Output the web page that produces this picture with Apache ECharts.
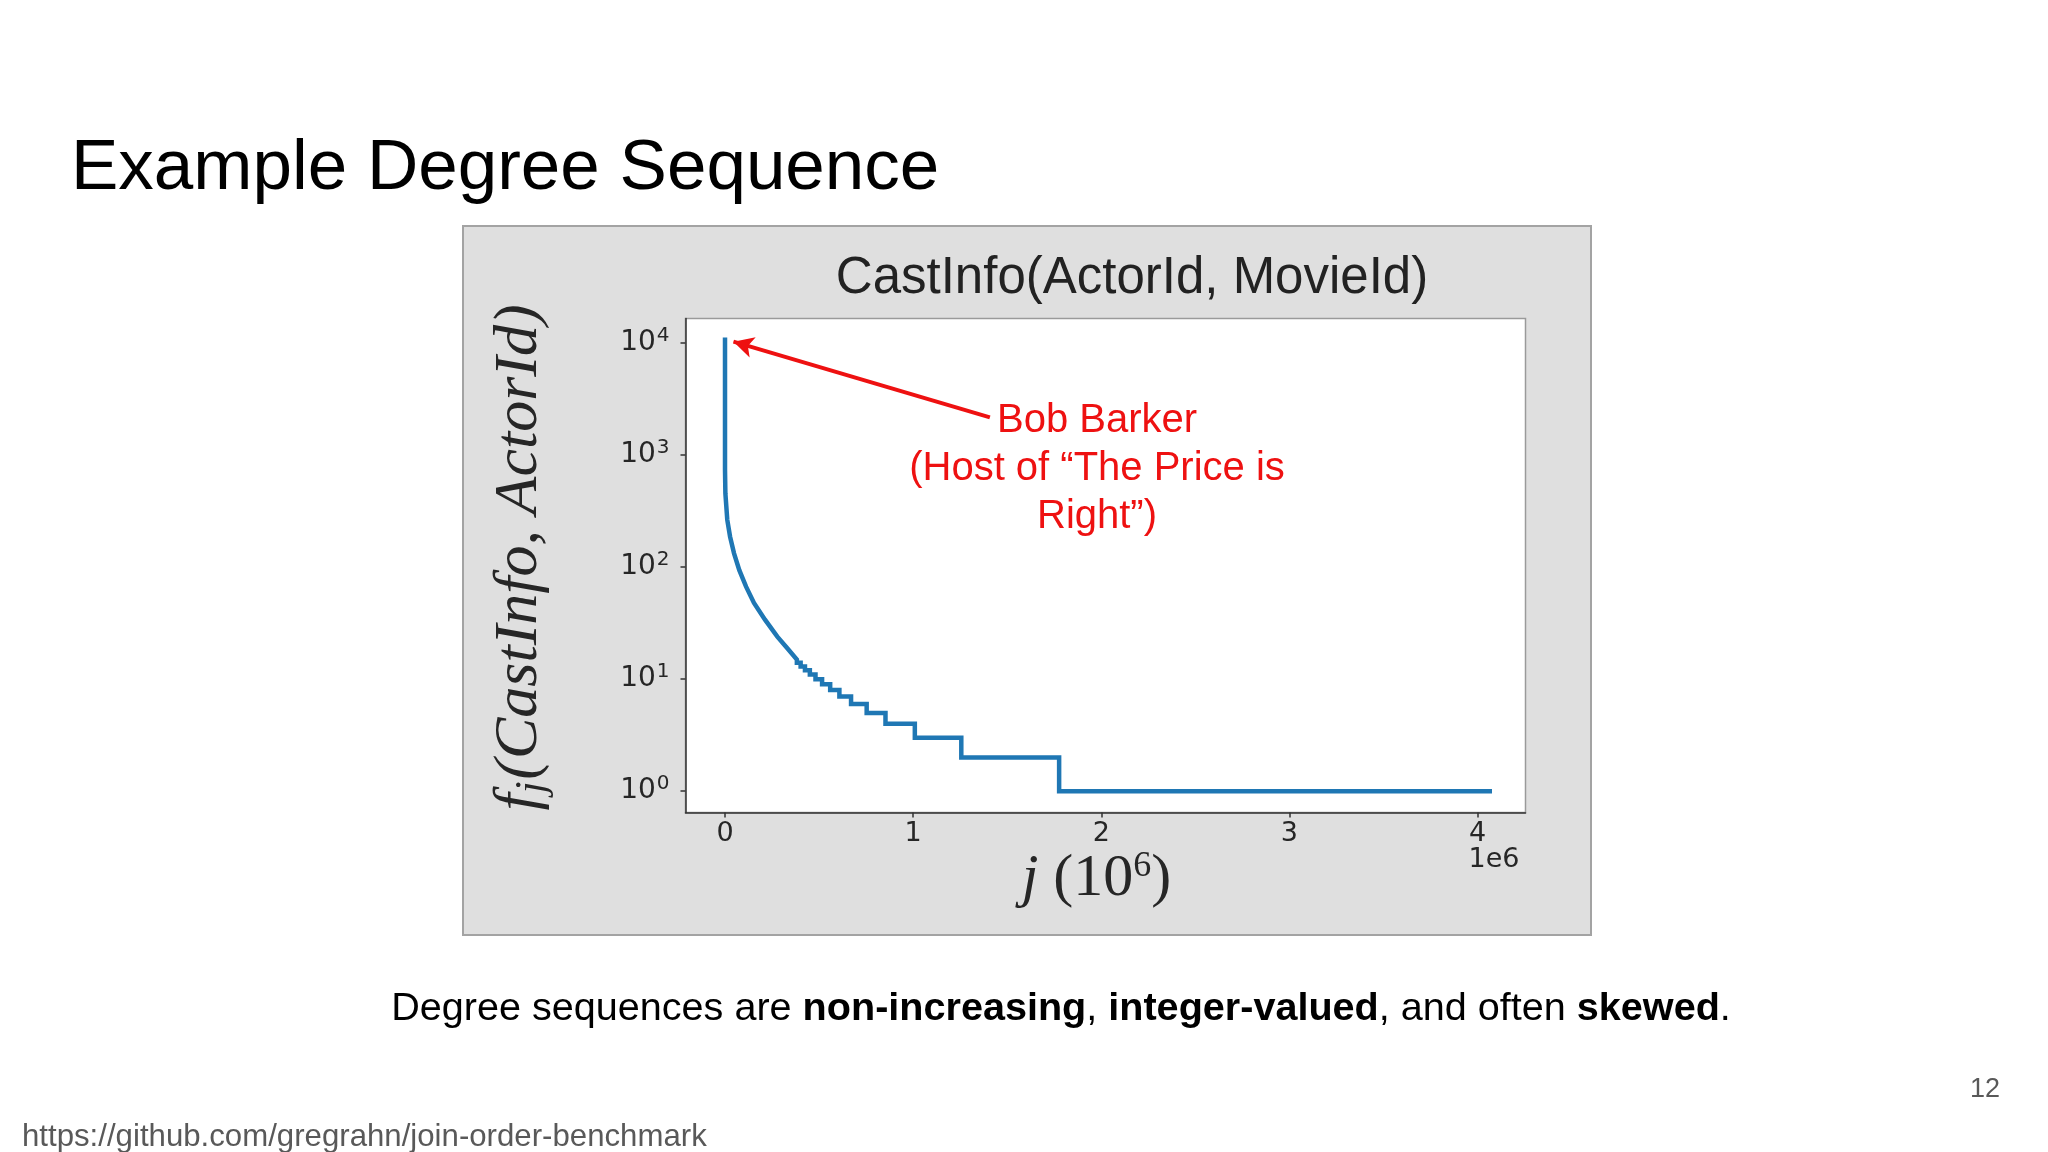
<!DOCTYPE html>
<html>
<head>
<meta charset="utf-8">
<script src="https://cdn.jsdelivr.net/npm/echarts@6/dist/echarts.min.js"></script>
<style>
html,body{margin:0;padding:0;background:#fff;}
#chart{width:2048px;height:1152px;}
</style>
</head>
<body>
<div id="chart"></div>
<script>
// ---- data ----
// smooth head of the degree sequence (rank j in millions, degree)
const headRankM = [0, 0, 0.002, 0.012, 0.027, 0.048, 0.076, 0.112, 0.154, 0.2125, 0.278, 0.33, 0.382];
const headDegree = [10700, 740, 455, 265, 187, 133, 94, 67, 48, 34, 24, 19, 15];
// integer-valued step tail: each degree holds until stepEndRankM
const stepDegree = [14, 13, 12, 11, 10, 9, 8, 7, 6, 5, 4, 3, 2, 1];
const stepEndRankM = [0.402, 0.425, 0.451, 0.481, 0.516, 0.559, 0.608, 0.670, 0.753, 0.853, 1.009, 1.256, 1.776, 4.065];
// tick labels
const xTickValues = [0, 1, 2, 3, 4];
const yTickPowers = [0, 1, 2, 3, 4];
// annotation: arrow from text to Bob Barker's point
const arrowFrom = [1.408, 2178];
const arrowTo = [0.045, 10300];
const annotationLines = ['Bob Barker', '(Host of \u201cThe Price is', 'Right\u201d)'];

// ---- build series data ----
const seriesData = [];
for (let i = 0; i < headRankM.length; i++) seriesData.push([headRankM[i], headDegree[i]]);
let start = headRankM[headRankM.length - 1];
for (let i = 0; i < stepDegree.length; i++) {
  seriesData.push([start, stepDegree[i]]);
  seriesData.push([stepEndRankM[i], stepDegree[i]]);
  start = stepEndRankM[i];
}

const tickColor = '#262626';
const serifMath = "'Liberation Serif', 'Times New Roman', serif";
const sans = "'Liberation Sans', Arial, sans-serif";

const chart = echarts.init(document.getElementById('chart'), null, {width: 2048, height: 1152, renderer: 'canvas'});
chart.setOption({
  animation: false,
  backgroundColor: '#ffffff',
  grid: {
    left: 685.5, top: 318.5, width: 840, height: 494,
    show: true, backgroundColor: '#ffffff', borderColor: '#9a9a9a', borderWidth: 1.5,
    containLabel: false
  },
  xAxis: {
    type: 'value',
    min: -0.21, max: 4.255,
    axisLine: {show: true, onZero: false, lineStyle: {color: '#333', width: 1.5}},
    axisTick: {show: true, length: 5, customValues: xTickValues, lineStyle: {color: '#333', width: 1.5}},
    axisLabel: {
      customValues: xTickValues, margin: 8,
      fontFamily: 'DejaVu Sans', fontSize: 27, color: tickColor,
      showMinLabel: true, showMaxLabel: true,
      formatter: v => String(v)
    },
    splitLine: {show: false},
    name: '{i|j }{n|(10}{s|6}{n|)}',
    nameLocation: 'middle',
    nameGap: 32,
    nameTextStyle: {
      color: tickColor,
      padding: [0, 18, 0, 0],
      rich: {
        i: {fontFamily: serifMath, fontStyle: 'italic', fontSize: 60, color: tickColor},
        n: {fontFamily: serifMath, fontSize: 60, color: tickColor},
        s: {fontFamily: serifMath, fontSize: 36, color: tickColor, verticalAlign: 'top', padding: [0, 0, 26, 0]}
      }
    }
  },
  yAxis: {
    type: 'log', logBase: 10,
    min: Math.pow(10, -0.19), max: Math.pow(10, 4.22),
    axisLine: {show: true, onZero: false, lineStyle: {color: '#333', width: 1.5}},
    axisTick: {show: true, length: 5, lineStyle: {color: '#333', width: 1.5}},
    axisLabel: {
      margin: 16,
      showMinLabel: false, showMaxLabel: false,
      formatter: v => {
        const p = Math.round(Math.log10(v));
        if (yTickPowers.indexOf(p) < 0 || Math.abs(Math.log10(v) - p) > 1e-6) return '';
        return '{b|10}{s|' + p + '}';
      },
      rich: {
        b: {fontFamily: 'DejaVu Sans', fontSize: 28, color: tickColor},
        s: {fontFamily: 'DejaVu Sans', fontSize: 20, color: tickColor, padding: [0, 0, 15, 1]}
      }
    },
    splitLine: {show: false},
    name: '{f|f}{sub|j}{t|(CastInfo, ActorId)}',
    nameLocation: 'middle',
    nameRotate: 90,
    nameGap: 132,
    nameTextStyle: {
      color: tickColor,
      padding: [0, 0, 0, 16],
      rich: {
        f: {fontFamily: serifMath, fontStyle: 'italic', fontSize: 62, color: tickColor},
        sub: {fontFamily: serifMath, fontStyle: 'italic', fontSize: 42, color: tickColor, padding: [26, 2, 0, 0]},
        t: {fontFamily: serifMath, fontStyle: 'italic', fontSize: 62, color: tickColor}
      }
    }
  },
  series: [{
    type: 'line',
    data: seriesData,
    showSymbol: false,
    symbol: 'none',
    lineStyle: {color: '#1f77b4', width: 4.5, cap: 'square', join: 'miter'},
    silent: true,
    markLine: {
      silent: true,
      symbol: ['none', 'arrow'],
      symbolSize: [16, 20],
      label: {show: false},
      lineStyle: {color: '#ee1111', width: 4, type: 'solid'},
      itemStyle: {color: '#ee1111'},
      data: [[{coord: arrowFrom}, {coord: arrowTo}]]
    }
  }],
  graphic: [
    {type: 'rect', z: -10, silent: true,
     shape: {x: 463, y: 226, width: 1128, height: 709},
     style: {fill: '#dfdfdf', stroke: '#a3a3a3', lineWidth: 2}},
    {type: 'text', left: 71, top: 134, silent: true,
     style: {text: 'Example Degree Sequence', font: '71px ' + sans, fill: '#000'}},
    {type: 'text', x: 1132, y: 279, silent: true,
     style: {text: 'CastInfo(ActorId, MovieId)', font: '51px ' + sans, fill: '#222',
             align: 'center', verticalAlign: 'middle'}},
    {type: 'text', x: 1097, y: 469, silent: true, z: 10,
     style: {text: annotationLines.join('\n'), font: '40px ' + sans, fill: '#ee1111',
             align: 'center', verticalAlign: 'middle', lineHeight: 48}},
    {type: 'text', x: 1494, y: 860, silent: true,
     style: {text: '1e6', font: '27px DejaVu Sans', fill: tickColor, align: 'center', verticalAlign: 'middle'}},
    {type: 'text', x: 1061, y: 1009, silent: true,
     style: {
       text: '{r|Degree sequences are }{bd|non-increasing}{r|, }{bd|integer-valued}{r|, and often }{bd|skewed}{r|.}',
       align: 'center', verticalAlign: 'middle',
       rich: {
         r: {fontFamily: sans, fontSize: 39.6, fill: '#000'},
         bd: {fontFamily: sans, fontSize: 39.6, fontWeight: 'bold', fill: '#000'}
       }
     }},
    {type: 'text', x: 2000, y: 1090, silent: true,
     style: {text: '12', font: '27px ' + sans, fill: '#595959', align: 'right', verticalAlign: 'middle'}},
    {type: 'text', x: 22, y: 1137, silent: true,
     style: {text: 'https://github.com/gregrahn/join-order-benchmark', font: '31.2px ' + sans, fill: '#595959',
             align: 'left', verticalAlign: 'middle'}}
  ]
});
</script>
</body>
</html>
